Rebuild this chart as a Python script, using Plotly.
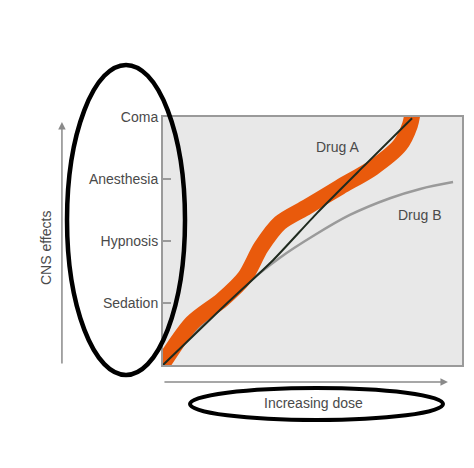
import plotly.graph_objects as go

# CNS effect levels on the y axis
levels = ["Sedation", "Hypnosis", "Anesthesia", "Coma"]
level_vals = [1, 2, 3, 4]

# Drug A: roughly linear dose-effect
drug_a_dose = [0, 2.0, 3.68, 5.15, 6.7, 8.33]
drug_a_effect = [0, 0.93, 1.69, 2.45, 3.2, 3.98]

# Drug B: saturating dose-effect
drug_b_dose = [0, 1.4, 2.68, 3.91, 5.02, 6.25, 7.59, 8.6, 9.7]
drug_b_effect = [0, 0.69, 1.26, 1.73, 2.08, 2.42, 2.69, 2.84, 2.95]

# hand-drawn orange highlight over drug A
mark_dose = [-0.1, 0.97, 1.97, 2.74, 3.28, 3.91, 4.82, 5.92, 7.02, 7.93, 8.26, 8.33]
mark_effect = [-0.05, 0.68, 1.05, 1.42, 1.9, 2.29, 2.55, 2.87, 3.18, 3.55, 3.87, 4.02]

text_color = "#4a4a4a"
font_family = "Liberation Sans, Arial, sans-serif"

fig = go.Figure()

fig.add_trace(go.Scatter(
    x=drug_b_dose, y=drug_b_effect, mode="lines",
    line=dict(color="#9a9a9a", width=2.5, shape="spline", smoothing=1),
    hoverinfo="skip"
))
fig.add_trace(go.Scatter(
    x=mark_dose, y=mark_effect, mode="lines",
    line=dict(color="#e95a0c", width=16, shape="spline", smoothing=0.8),
    hoverinfo="skip"
))
fig.add_trace(go.Scatter(
    x=drug_a_dose, y=drug_a_effect, mode="lines",
    line=dict(color="#1f2a1f", width=2, shape="spline", smoothing=0.6),
    hoverinfo="skip"
))

fig.add_annotation(x=5.85, y=3.52, text="Drug A", showarrow=False,
                   font=dict(size=14, color=text_color))
fig.add_annotation(x=8.6, y=2.42, text="Drug B", showarrow=False,
                   font=dict(size=14, color=text_color))

# axis arrows
fig.add_annotation(xref="paper", yref="paper", x=0.953, y=-0.0685,
                   ax=-285, ay=0, text="", showarrow=True,
                   arrowhead=2, arrowsize=1, arrowwidth=1.5, arrowcolor="#8a8a8a")
fig.add_annotation(xref="paper", yref="paper", x=-0.338, y=0.98,
                   ax=0, ay=243, text="", showarrow=True,
                   arrowhead=2, arrowsize=1, arrowwidth=1.5, arrowcolor="#8a8a8a")

fig.add_annotation(xref="paper", yref="paper", x=-0.391, y=0.472,
                   xanchor="center", yanchor="middle",
                   text="CNS effects", textangle=-90, showarrow=False,
                   font=dict(size=14, color=text_color))
fig.add_annotation(xref="paper", yref="paper", x=0.502, y=-0.153,
                   xanchor="center", yanchor="middle",
                   text="Increasing dose", showarrow=False,
                   font=dict(size=14, color=text_color))

# hand-drawn ellipses
fig.add_shape(type="circle", xref="paper", yref="paper",
              x0=-0.321, x1=0.0736, y0=-0.0403, y1=1.21,
              line=dict(color="black", width=4.5))
fig.add_shape(type="circle", xref="paper", yref="paper",
              x0=0.0903, x1=0.9365, y0=-0.2218, y1=-0.0927,
              line=dict(color="black", width=4))

fig.update_xaxes(range=[0, 10], showgrid=False, zeroline=False,
                 showticklabels=False, ticks="",
                 showline=True, mirror=True, linecolor="#9a9a9a", linewidth=2)
fig.update_yaxes(range=[0, 4], showgrid=False, zeroline=False,
                 tickvals=level_vals, ticktext=levels,
                 ticks="inside", ticklen=8, tickcolor="#9a9a9a", tickwidth=1.5,
                 tickfont=dict(size=14, color=text_color),
                 showline=True, mirror=True, linecolor="#9a9a9a", linewidth=2)

fig.update_layout(
    width=474, height=468,
    margin=dict(l=155, r=20, t=109, b=111),
    plot_bgcolor="#e8e8e8", paper_bgcolor="white",
    showlegend=False,
    font=dict(family=font_family, color=text_color)
)

fig.write_html("out.html")
